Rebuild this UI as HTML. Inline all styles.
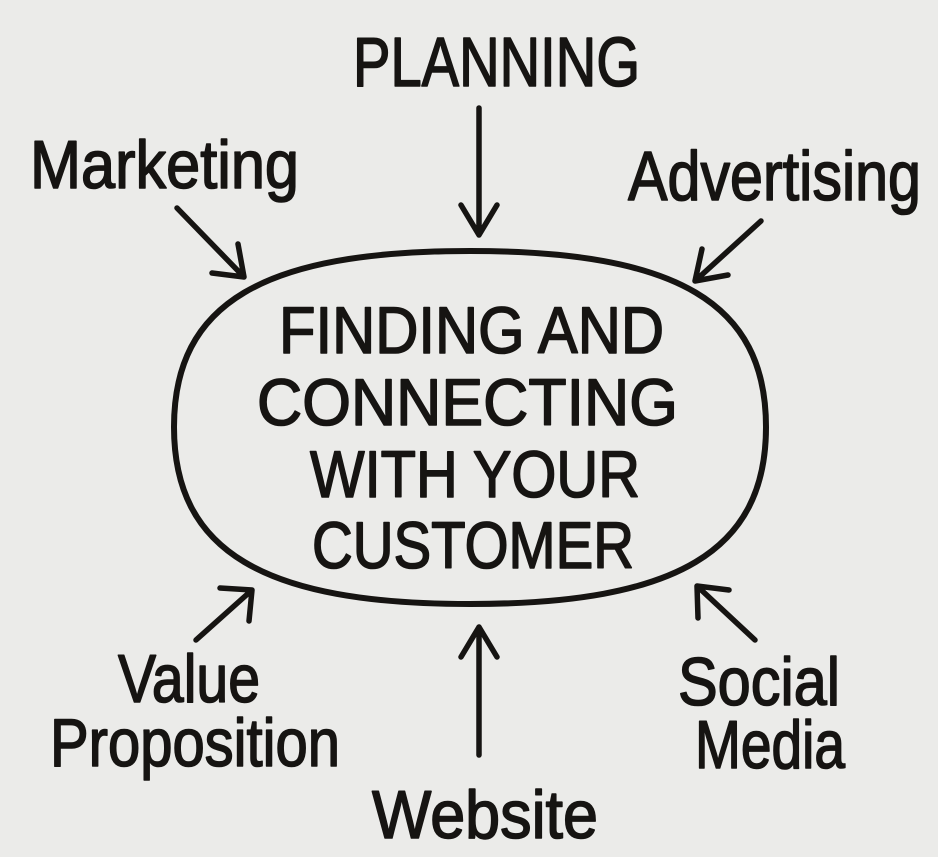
<!DOCTYPE html>
<html><head><meta charset="utf-8"><style>
html,body{margin:0;padding:0;background:#ebebe9;}
svg{display:block;}
text{font-family:"Liberation Sans",sans-serif;fill:#161412;stroke:#161412;stroke-width:1.6;stroke-linejoin:round;}
</style></head><body>
<svg width="938" height="857" viewBox="0 0 938 857" xmlns="http://www.w3.org/2000/svg">
<rect width="938" height="857" fill="#ebebe9"/>
<g fill="none" stroke="#161412" stroke-width="5.5" stroke-linecap="round" stroke-linejoin="round">
<path stroke-width="6" d="M470,251 C677,251 766,303 766,427 C766,551 677,604 470,604 C263,604 174,551 174,427 C174,303 263,251 470,251 Z"/>
<path d="M479,108 L479,235 M461,205 L479,235 L497,205"/>
<path d="M177,208 L244,277 M212,273 L244,277 L238,244"/>
<path d="M761,221 L695,281 M702,249 L695,281 L728,275"/>
<path d="M196,640 L252,590 M220,588 L252,590 L249,621"/>
<path d="M479,755 L479,627 M461,657 L479,627 L497,657"/>
<path d="M755,640 L697,586 M698,618 L697,586 L729,590"/>
</g>
<g font-size="66" text-anchor="start">
<text x="279" y="353" textLength="385" lengthAdjust="spacingAndGlyphs">FINDING AND</text>
<text x="257" y="425" textLength="421" lengthAdjust="spacingAndGlyphs">CONNECTING</text>
<text x="310" y="497" textLength="330" lengthAdjust="spacingAndGlyphs">WITH YOUR</text>
<text x="312" y="568" textLength="322" lengthAdjust="spacingAndGlyphs">CUSTOMER</text>
</g>
<text x="353" y="86" font-size="70" textLength="287" lengthAdjust="spacingAndGlyphs">PLANNING</text>
<text x="30" y="188" font-size="68" textLength="269" lengthAdjust="spacingAndGlyphs">Marketing</text>
<text x="628" y="200" font-size="70" textLength="293" lengthAdjust="spacingAndGlyphs">Advertising</text>
<text x="118" y="702" font-size="68" textLength="142" lengthAdjust="spacingAndGlyphs">Value</text>
<text x="50" y="766" font-size="68" textLength="290" lengthAdjust="spacingAndGlyphs">Proposition</text>
<text x="678" y="705" font-size="68" textLength="162" lengthAdjust="spacingAndGlyphs">Social</text>
<text x="695" y="768" font-size="68" textLength="150" lengthAdjust="spacingAndGlyphs">Media</text>
<text x="372" y="838" font-size="68" textLength="226" lengthAdjust="spacingAndGlyphs">Website</text>
</svg>
</body></html>
